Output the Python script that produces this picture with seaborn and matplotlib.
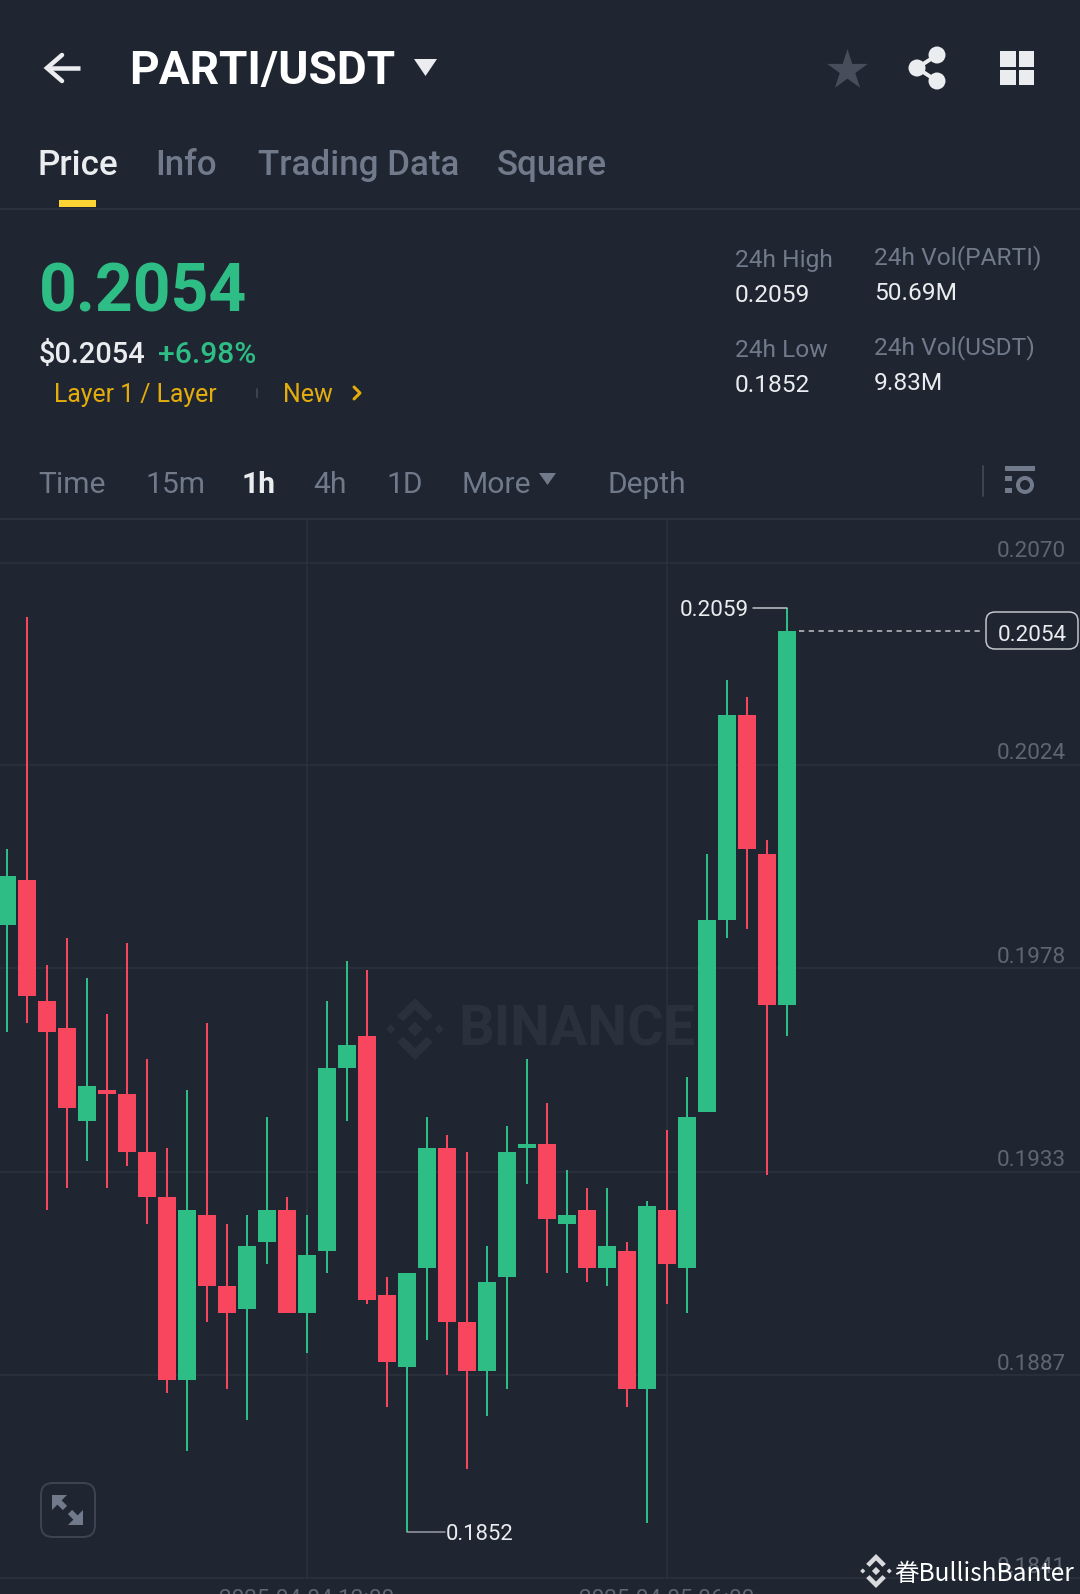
import matplotlib
matplotlib.use("Agg")
import matplotlib.pyplot as plt
from matplotlib.patches import FancyBboxPatch, Polygon, Rectangle, Circle
import pandas as pd
import seaborn as sns

# hourly candles
opens = [0.1988, 0.1998, 0.1971, 0.1965, 0.1944, 0.1951, 0.1950, 0.1937, 0.1927, 0.1886,
         0.1923, 0.1907, 0.1902, 0.1917, 0.1924, 0.1901, 0.1915, 0.1956, 0.1963, 0.1905,
         0.1889, 0.1911, 0.1938, 0.1899, 0.1888, 0.1909, 0.1938, 0.1939, 0.1921, 0.1924,
         0.1911, 0.1915, 0.1884, 0.1924, 0.1911, 0.1946, 0.1989, 0.2035, 0.2004, 0.1970]
closes = [0.1999, 0.1972, 0.1964, 0.1947, 0.1952, 0.1950, 0.1937, 0.1927, 0.1886, 0.1924,
          0.1907, 0.1901, 0.1916, 0.1924, 0.1901, 0.1914, 0.1956, 0.1961, 0.1904, 0.1890,
          0.1910, 0.1938, 0.1899, 0.1888, 0.1908, 0.1937, 0.1939, 0.1922, 0.1923, 0.1911,
          0.1916, 0.1884, 0.1925, 0.1912, 0.1945, 0.1989, 0.2035, 0.2005, 0.1970, 0.2054]
highs = [0.2005, 0.2057, 0.1979, 0.1985, 0.1976, 0.1968, 0.1984, 0.1958, 0.1938, 0.1951,
         0.1966, 0.1921, 0.1923, 0.1945, 0.1927, 0.1923, 0.1971, 0.1980, 0.1978, 0.1909,
         0.1910, 0.1945, 0.1941, 0.1937, 0.1916, 0.1943, 0.1958, 0.1948, 0.1933, 0.1929,
         0.1929, 0.1917, 0.1926, 0.1942, 0.1954, 0.2004, 0.2043, 0.2039, 0.2007, 0.2059]
lows = [0.1964, 0.1966, 0.1924, 0.1929, 0.1935, 0.1929, 0.1934, 0.1921, 0.1883, 0.1870,
        0.1899, 0.1884, 0.1877, 0.1912, 0.1901, 0.1892, 0.1910, 0.1944, 0.1903, 0.1880,
        0.1852, 0.1895, 0.1887, 0.1866, 0.1878, 0.1884, 0.1930, 0.1910, 0.1910, 0.1908,
        0.1907, 0.1880, 0.1854, 0.1903, 0.1901, 0.1946, 0.1985, 0.1987, 0.1932, 0.1963]

grid_levels = [0.20692, 0.20239, 0.19783, 0.19327, 0.18871, 0.18415]
price_labels = ["0.2070", "0.2024", "0.1978", "0.1933", "0.1887", "0.1841"]
date_ticks = [15, 33]
date_labels = ["2025-04-04 12:00", "2025-04-05 06:00"]
last_price = 0.2054
day_high = 0.2059
day_low = 0.1852

BG = "#1f2631"
GRID = "#2b313d"
GREEN = "#2ebd85"
RED = "#f9465f"
WHITE = "#eaecef"
GRAY = "#707a8a"
DIM = "#5e6673"
GOLD = "#e5ad0c"

sns.set_theme(style="dark", rc={"figure.facecolor": BG, "axes.facecolor": BG})
plt.rcParams["font.family"] = ["Roboto", "Noto Sans CJK SC", "DejaVu Sans"]

W, H = 1080, 1594
fig = plt.figure(figsize=(W / 100, H / 100), dpi=100)


def px(size):
    return size * 0.72


# chart axes, top at the toolbar line and bottom at the last grid line
CH_TOP, CH_BOT = 519, 1579
TICK_PX = 4.4609
ax = fig.add_axes([0, 1 - CH_BOT / H, 1, (CH_BOT - CH_TOP) / H], zorder=1)
ax.set_facecolor("none")

# screen overlay for everything that is not a candle
ov = fig.add_axes([0, 0, 1, 1], zorder=2)
ov.set_xlim(0, W)
ov.set_ylim(H, 0)
ov.axis("off")
ov.patch.set_alpha(0)

df = pd.DataFrame({"idx": range(len(opens)), "open": opens, "close": closes, "high": highs, "low": lows})
df["up"] = df["close"] >= df["open"]
df["body"] = (df["close"] - df["open"]).abs()
df["base"] = df[["open", "close"]].min(axis=1)

ax.vlines(df["idx"], df["low"], df["high"], colors=[GREEN if u else RED for u in df["up"]],
          lw=px(2), zorder=3)
for up, color in [(True, GREEN), (False, RED)]:
    part = df[df["up"] == up]
    sns.barplot(data=part, x="idx", y="body", bottom=part["base"].values, color=color, saturation=1,
                native_scale=True, width=0.87, errorbar=None, linewidth=0, zorder=4, ax=ax)

ax.set_xlim(-7 / 20, (W - 7) / 20)
ax.set_ylim(day_high - (CH_BOT - 608.2) / TICK_PX * 1e-4, day_high + (608.2 - CH_TOP) / TICK_PX * 1e-4)
ax.set_xticks(date_ticks)
ax.set_yticks(grid_levels)
ax.grid(True, color=GRID, lw=px(1.5))
ax.set_axisbelow(True)
ax.set_xlabel("")
ax.set_ylabel("")
ax.tick_params(length=0, labelbottom=False, labelleft=False)
for s in ax.spines.values():
    s.set_visible(False)

# price labels sit just above their grid lines
for lev, lab in zip(grid_levels, price_labels):
    ax.annotate(lab, xy=(1, lev), xycoords=("axes fraction", "data"), xytext=(-px(14), px(11)),
                textcoords="offset points", ha="right", va="center", color=DIM, fontsize=px(22.5), zorder=1)
for tick, lab in zip(date_ticks, date_labels):
    ov.text(7 + 20 * tick, 1589, lab, ha="center", va="top", color=DIM, fontsize=px(22.5))


def logo(a, cx, cy, s, color, z=1, **kw):
    d = s * 0.24
    for dx in (-s * 0.78, 0, s * 0.78):
        r = d if dx == 0 else d * 0.62
        a.add_patch(Polygon([(cx + dx - r, cy), (cx + dx, cy - r), (cx + dx + r, cy), (cx + dx, cy + r)],
                            closed=True, color=color, lw=0, zorder=z, **kw))
    for sgn in (-1, 1):
        a.add_patch(Polygon([(cx - s * 0.58, cy + sgn * s * 0.42), (cx, cy + sgn * s), (cx + s * 0.58, cy + sgn * s * 0.42),
                             (cx + s * 0.38, cy + sgn * s * 0.24), (cx, cy + sgn * s * 0.62), (cx - s * 0.38, cy + sgn * s * 0.24)],
                            closed=True, color=color, lw=0, zorder=z, **kw))


# faint BINANCE mark behind the candles
mark = "#2a303c"
logo(ax, 415, 1029, 31, mark, z=1, transform=ov.transData)
ax.text(459, 1031, "BINANCE", transform=ov.transData, color=mark, fontsize=px(56), fontweight="bold",
        va="center", ha="left", zorder=1)

# last price line and box
ax.plot([39.6, 48.7], [last_price, last_price], color="#c4c8ce", lw=px(1.5), dashes=(3.5, 3), zorder=5)
ov.add_patch(FancyBboxPatch((993, 619), 78, 23, boxstyle="round,pad=7,rounding_size=9", fc=BG, ec="#c4c8ce", lw=px(1.5)))
ov.text(1032, 635, f"{last_price:.4f}", color=WHITE, fontsize=px(22.5), ha="center", va="center")

# high and low callouts
ax.plot([37.3, 39], [day_high, day_high], color="#c4c8ce", lw=px(1.5), zorder=5)
ov.text(749, 610, f"{day_high:.4f}", color=WHITE, fontsize=px(22.5), ha="right", va="center")
ax.plot([20, 21.9], [day_low, day_low], color="#9aa0aa", lw=px(1.5), zorder=5)
ov.text(446, 1534, f"{day_low:.4f}", color=WHITE, fontsize=px(22), ha="left", va="center")

# expand button
ov.add_patch(FancyBboxPatch((49, 1491), 38, 38, boxstyle="round,pad=8,rounding_size=12", fc="none", ec="#3d4350", lw=px(2)))
ov.add_patch(Polygon([(52, 1495), (67, 1495), (52, 1510)], closed=True, color=GRAY, lw=0))
ov.add_patch(Polygon([(83, 1525), (68, 1525), (83, 1510)], closed=True, color=GRAY, lw=0))
ov.plot([58, 65], [1501, 1508], color=GRAY, lw=px(6), solid_capstyle="butt")
ov.plot([70, 77], [1512, 1519], color=GRAY, lw=px(6), solid_capstyle="butt")

# header row
ov.plot([47, 80], [68, 68], color=WHITE, lw=px(4.5), solid_capstyle="butt")
ov.plot([62, 47, 62], [55, 68, 81], color=WHITE, lw=px(4.5), solid_joinstyle="miter")
ov.text(129, 71, "PARTI/USDT", color="white", fontsize=px(46), fontweight="bold", va="center", ha="left")
ov.add_patch(Polygon([(414, 59), (437, 59), (425.5, 76)], closed=True, color=WHITE, lw=0))
ov.scatter([847], [70], marker="*", s=950, color="#474d5a", lw=0)
ov.plot([937, 917, 937], [55, 68, 81], color=WHITE, lw=px(4))
for cx, cy in [(917, 68), (937, 55), (937, 81)]:
    ov.add_patch(Circle((cx, cy), 8.5, color=WHITE, lw=0))
for x0 in (1000, 1018.5):
    for y0 in (51, 69.5):
        ov.add_patch(Rectangle((x0, y0), 15.5, 15.5, color=WHITE, lw=0))

# tabs
for x, lab, col in [(38, "Price", WHITE), (155, "Info", GRAY), (258, "Trading Data", GRAY), (497, "Square", GRAY)]:
    ov.text(x, 165, lab, color=col, fontsize=px(35), fontweight="medium", va="center", ha="left")
ov.add_patch(Rectangle((59, 200), 37, 7, color="#fcd535", lw=0))
ov.plot([0, W], [208.5, 208.5], color=GRID, lw=px(2))

# ticker block
ov.text(39, 293, "0.2054", color=GREEN, fontsize=px(66), fontweight="bold", va="center", ha="left")
ov.text(39, 355, "$0.2054", color=WHITE, fontsize=px(29), fontweight="medium", va="center", ha="left")
ov.text(158, 355, "+6.98%", color=GREEN, fontsize=px(30), fontweight="medium", va="center", ha="left")
ov.text(54, 395, "Layer 1 / Layer", color=GOLD, fontsize=px(24.7), va="center", ha="left")
ov.plot([257, 257], [389, 397], color="#3d4350", lw=px(2))
ov.text(283, 395, "New", color=GOLD, fontsize=px(25), va="center", ha="left")
ov.plot([354, 360, 354], [387, 393, 399], color=GOLD, lw=px(3))

for x, y, lab, col in [(735, 260, "24h High", GRAY), (735, 295, "0.2059", WHITE),
                       (735, 350, "24h Low", GRAY), (735, 385, "0.1852", WHITE),
                       (874, 258, "24h Vol(PARTI)", GRAY), (874, 293, "50.69M", WHITE),
                       (874, 348, "24h Vol(USDT)", GRAY), (874, 383, "9.83M", WHITE)]:
    ov.text(x, y, lab, color=col, fontsize=px(24.5), va="center", ha="left")

# interval bar
for x, lab, col, wt in [(38, "Time", GRAY, "normal"), (145, "15m", GRAY, "normal"), (242, "1h", WHITE, "bold"),
                        (313, "4h", GRAY, "normal"), (386, "1D", GRAY, "normal"), (461, "More", GRAY, "normal"),
                        (608, "Depth", GRAY, "normal")]:
    ov.text(x, 485, lab, color=col, fontsize=px(30), fontweight=wt, va="center", ha="left")
ov.add_patch(Polygon([(539, 473), (556, 473), (547.5, 485)], closed=True, color=GRAY, lw=0))
ov.plot([983, 983], [466, 496], color="#3d4350", lw=px(2))
ov.add_patch(Rectangle((1005, 466), 30, 5, color=GRAY, lw=0))
ov.add_patch(Rectangle((1005, 476), 7, 5, color=GRAY, lw=0))
ov.add_patch(Rectangle((1005, 488), 7, 5, color=GRAY, lw=0))
ov.add_patch(Circle((1025, 485), 7, fc="none", ec=GRAY, lw=px(4)))
ov.plot([0, W], [519, 519], color=GRID, lw=px(2))

# reposter's tag over the corner
logo(ov, 876, 1571, 17, "#d8dade")
ov.text(894, 1574, "眷BullishBanter", color="white", fontsize=px(24.5), va="center", ha="left",
        family=["Noto Sans CJK SC", "DejaVu Sans"])

fig.savefig("out.png", dpi=100, facecolor=BG)
